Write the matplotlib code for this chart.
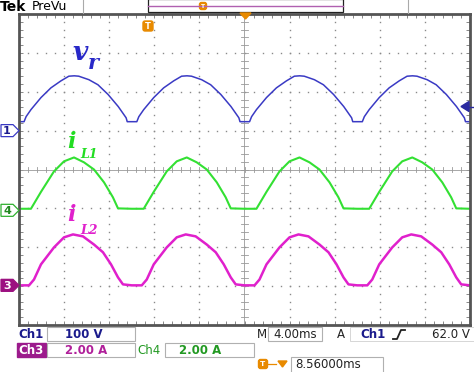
import numpy as np
import matplotlib.pyplot as plt
from matplotlib.patches import Rectangle, Polygon, FancyBboxPatch

# one period of each trace, time in ms from a v_r trough
vr_t = [0.0, 0.45, 0.63, 1.06, 1.95, 2.83, 3.72, 4.42, 4.9, 5.3, 6.2, 7.0, 7.9, 8.8, 9.5, 9.6, 10.0]
vr_v = [23, 23, 36, 54, 85, 110, 128, 140, 141, 140, 131, 118, 93, 62, 33, 23, 23]   # V

il1_t = [0.0, 1.06, 1.95, 3.10, 3.99, 4.88, 5.76, 6.65, 7.54, 8.33, 8.78, 10.0]
il1_a = [0.08, 0.08, 0.95, 2.0, 2.52, 2.72, 2.47, 2.10, 1.44, 0.67, 0.10, 0.08]       # A

il2_t = [0.0, 0.89, 1.33, 1.95, 3.10, 3.99, 4.79, 5.67, 6.65, 7.45, 8.16, 8.78, 9.22, 10.0]
il2_a = [0.0, 0.0, 0.30, 1.08, 1.95, 2.47, 2.62, 2.52, 2.10, 1.70, 1.08, 0.41, 0.05, 0.0]  # A

period_starts = [-30, -20, -10, 0, 10, 20]

# scope settings
ch1_scale, ch1_pos = 100.0, 1.0     # V/div, div
ch4_scale, ch4_pos = 2.0, -1.05     # A/div
ch3_scale, ch3_pos = 2.0, -2.98
trig_level = 62.0
trig_time = -8.56


def repeat(tt, vv):
    t = np.concatenate([np.array(tt) + s for s in period_starts])
    v = np.concatenate([np.array(vv, float)] * len(period_starts))
    return t, v


fig = plt.figure(figsize=(4.74, 3.72), dpi=100)
W, H = 474, 372
L, T, R, B = 19, 14, 470, 325
ax = fig.add_axes([L / W, 1 - B / H, (R - L) / W, (B - T) / H])
ax.set_xlim(-20, 20)
ax.set_ylim(-4, 4)
for s in ax.spines.values():
    s.set_color('#555555')
    s.set_linewidth(2)
ax.set_xticks(np.arange(-20, 20.01, 0.8))
ax.set_yticks(np.arange(-4, 4.01, 0.2))
ax.tick_params(direction='in', length=3, width=0.7, color='#888888',
               top=True, right=True, labelbottom=False, labelleft=False)

# graticule
grey = '#8a8a8a'
ys = np.arange(-4, 4.01, 0.2)
xs = np.arange(-20, 20.01, 0.8)
for gx in np.arange(-16, 16.1, 4):
    if gx != 0:
        ax.plot(np.full_like(ys, gx), ys, ls='none', marker='s', ms=1.0, color=grey, mew=0)
for gy in np.arange(-3, 3.1, 1):
    if gy != 0:
        ax.plot(xs, np.full_like(xs, gy), ls='none', marker='s', ms=1.0, color=grey, mew=0)
ax.axhline(0, color='#999999', lw=0.6)
ax.axvline(0, color='#999999', lw=0.6)
for x in xs:
    ax.plot([x, x], [-0.07, 0.07], color='#999999', lw=0.6)
for y in ys:
    ax.plot([-0.3, 0.3], [y, y], color='#999999', lw=0.6)

# traces
t, v = repeat(vr_t, vr_v)
ax.plot(t, v / ch1_scale + ch1_pos, color='#3a3ac4', lw=1.1)
t, a = repeat(il1_t, il1_a)
ax.plot(t, a / ch4_scale + ch4_pos, color='#33e033', lw=1.5)
t, a = repeat(il2_t, il2_a)
ax.plot(t, a / ch3_scale + ch3_pos, color='#e020cc', lw=1.8)

# trace labels
lab = dict(family='DejaVu Serif', style='italic', weight='bold', ha='left', va='center')
ax.text(-15.3, 3.0, 'v', color='#2828c8', fontsize=19, **lab)
ax.text(-13.9, 2.75, 'r', color='#2828c8', fontsize=15, **lab)
ax.text(-15.7, 0.7, 'i', color='#22dd22', fontsize=16, **lab)
ax.text(-14.6, 0.38, 'L1', color='#22dd22', fontsize=9, **lab)
ax.text(-15.7, -1.18, 'i', color='#e020cc', fontsize=16, **lab)
ax.text(-14.6, -1.57, 'L2', color='#e020cc', fontsize=9, **lab)

# pixel overlay for the scope's readouts
ov = fig.add_axes([0, 0, 1, 1], zorder=5)
ov.set_xlim(0, W)
ov.set_ylim(H, 0)
ov.axis('off')
ov.patch.set_alpha(0)

orange = '#e88a00'


def px_y(div):
    return (T + B) / 2 - div * (B - T) / 8


def px_x(ms):
    return (L + R) / 2 + ms * (R - L) / 40


def t_icon(x, y, s):
    ov.add_patch(FancyBboxPatch((x - s / 2, y - s / 2), s, s, boxstyle='round,pad=0,rounding_size=2',
                                fc=orange, ec=orange))
    ov.text(x, y + 0.5, 'T', color='white', fontsize=s * 0.6, weight='bold', ha='center', va='center')


# header
ov.text(0, 7, 'Tek', fontsize=10, weight='bold', ha='left', va='center')
ov.text(32, 6, 'PreVu', fontsize=9, ha='left', va='center')
ov.plot([83, 83], [0, 13], color='#aaaaaa', lw=0.8)
ov.plot([408, 408], [0, 13], color='#aaaaaa', lw=0.8)
ov.add_patch(Rectangle((148, -1), 195, 13, fc='white', ec='#222222', lw=0.9))
ov.plot([148, 343], [6, 6], color='#b060b0', lw=1.0)
t_icon(203, 6, 7)
ov.add_patch(Polygon([[240, T - 1], [251, T - 1], [245.5, T + 5]], fc=orange, ec=orange))
t_icon(px_x(trig_time), 26, 10)


# channel ground markers
def ch_marker(y, label, ec, fc, tc):
    ov.add_patch(Polygon([[1, y - 6], [13, y - 6], [19, y], [13, y + 6], [1, y + 6]],
                         fc=fc, ec=ec, lw=0.9))
    ov.text(7, y + 0.5, label, color=tc, fontsize=8, weight='bold', ha='center', va='center')


ch_marker(px_y(ch1_pos), '1', '#3a3ac4', 'white', '#1a1a8c')
ch_marker(px_y(ch4_pos), '4', '#2fb02f', 'white', '#208820')
ch_marker(px_y(ch3_pos), '3', '#9c1080', '#9c1080', 'white')

# trigger level arrow
ly = px_y(trig_level / ch1_scale + ch1_pos)
ov.add_patch(Polygon([[461, ly], [469, ly - 5], [469, ly + 5]], fc='#2a2aa0', ec='#2a2aa0'))
ov.plot([469, 474], [ly, ly], color='#2a2aa0', lw=1.0)

# readouts
box = dict(fc='white', ec='#b0b0b0', lw=0.8)
fs = 8.5
ov.text(18, 334, 'Ch1', color='#1a1a8c', fontsize=fs, weight='bold', ha='left', va='center')
ov.add_patch(Rectangle((47, 327), 88, 14, **box))
ov.text(84, 334, '100 V', color='#1a1a8c', fontsize=fs, weight='bold', ha='center', va='center')

ov.add_patch(Rectangle((17, 343), 29, 14, fc='#9c1a8c', ec='#9c1a8c'))
ov.text(18, 350, 'Ch3', color='white', fontsize=fs, weight='bold', ha='left', va='center')
ov.add_patch(Rectangle((47, 343), 88, 14, **box))
ov.text(86, 350, '2.00 A', color='#b0209a', fontsize=fs, weight='bold', ha='center', va='center')
ov.text(137, 350, 'Ch4', color='#229922', fontsize=fs, ha='left', va='center')
ov.add_patch(Rectangle((165, 343), 89, 14, **box))
ov.text(200, 350, '2.00 A', color='#229922', fontsize=fs, weight='bold', ha='center', va='center')

ov.text(257, 334, 'M', color='#222222', fontsize=fs, ha='left', va='center')
ov.add_patch(Rectangle((268, 327), 54, 14, **box))
ov.text(295, 334, '4.00ms', color='#222222', fontsize=fs, ha='center', va='center')
ov.text(337, 334, 'A', color='#222222', fontsize=fs, ha='left', va='center')
ov.add_patch(Rectangle((350, 327), 124, 14, fc='white', ec='#d0d0d0', lw=0.6))
ov.text(360, 334, 'Ch1', color='#1a1a8c', fontsize=fs, weight='bold', ha='left', va='center')
ov.plot([393, 397, 401, 405], [339, 339, 330, 330], color='#222222', lw=1.3)
ov.text(470, 334, '62.0 V', color='#222222', fontsize=fs, ha='right', va='center')

t_icon(263, 364, 9)
ov.plot([268, 276], [364, 364], color=orange, lw=0.9)
ov.add_patch(Polygon([[278, 361], [287, 361], [282.5, 367]], fc=orange, ec=orange))
ov.add_patch(Rectangle((291, 357), 92, 16, **box))
ov.text(295, 364, '8.56000ms', color='#222222', fontsize=fs, ha='left', va='center')

fig.savefig('out.png', dpi=100)
